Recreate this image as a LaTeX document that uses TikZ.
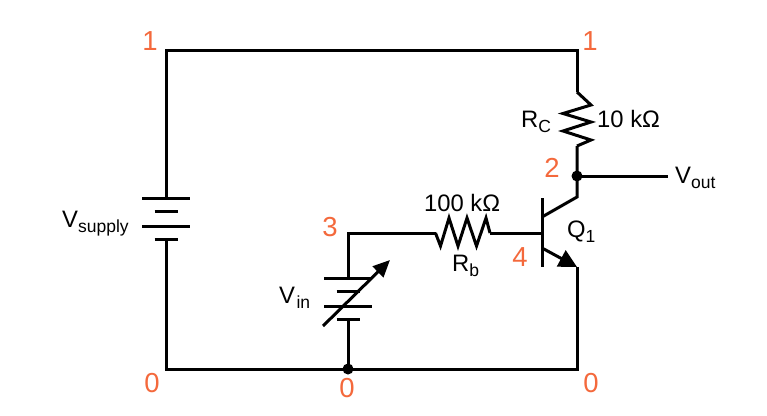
\documentclass[tikz,border=0pt]{standalone}
\usepackage{fontspec}
\setmainfont{Liberation Sans}
\usetikzlibrary{arrows.meta}
\newcommand{\subtxt}[1]{\raisebox{-5pt}{\fontsize{17.5}{17.5}\selectfont #1}}
\begin{document}
\begin{tikzpicture}[x=1pt,y=-1pt,wire/.style={line width=3pt,line join=miter,line cap=butt},
    dotnode/.style={circle,fill=black,inner sep=0pt,minimum size=11pt},
    numlabel/.style={text=numcolor,font=\fontsize{27.5}{27.5}\selectfont,inner sep=0pt},
    partlabel/.style={anchor=base west,inner sep=0pt,font=\fontsize{23.8}{23.8}\selectfont}]
        \definecolor{numcolor}{HTML}{F4693C}
        \useasboundingbox (0,0) rectangle (767,415);

          % corners of the loop
          \coordinate (tl) at (166,50);
          \coordinate (tr) at (577,50);
          \coordinate (bl) at (166,369);
          \coordinate (br) at (577,369);
          \coordinate (in) at (348,233);
          \coordinate (out) at (668,176);
          \coordinate (rcTop) at (577,92);
          \coordinate (rcBot) at (577,146);
          \coordinate (rbL) at (435.5,233);
          \coordinate (rbR) at (490,233);
          \coordinate (base) at (542,233);
          \coordinate (barTop) at (542,198);
          \coordinate (barBot) at (542,267);
          \coordinate (colIn) at (542,217);
          \coordinate (colOut) at (577,197);
          \coordinate (emIn) at (542,248);
          \coordinate (emOut) at (577,267);
          \coordinate (supA) at (166,198);
          \coordinate (supB) at (166,211);
          \coordinate (supC) at (166,226);
          \coordinate (supD) at (166,239);
          \coordinate (vinA) at (348,278);
          \coordinate (vinB) at (348,291);
          \coordinate (vinC) at (348,306);
          \coordinate (vinD) at (348,319);
          \coordinate (adjA) at (323,326);
          \coordinate (adjB) at (390,260);

          \node[dotnode] (d1) at (577,176) {};
          \node[dotnode] (d2) at (348,369) {};

          % wires
          \draw[wire] (supA) -- (tl) -- (tr) -- (rcTop);
          \draw[wire] (supD) -- (bl) -- (br) -- (emOut);
          \draw[wire] (rcBot) -- (d1.center) -- (colOut) -- (colIn);
          \draw[wire] (d1.center) -- (out);
          \draw[wire] (vinA) -- (in) -- (rbL);
          \draw[wire] (rbR) -- (base);
          \draw[wire] (vinD) -- (d2.center);
          \draw[wire] (barTop) -- (barBot);
          \draw[wire,-{Triangle[length=18pt,width=18pt]}] (emIn) -- (emOut);

          % resistors
          \draw[wire] (rcTop) -- ++(14,13) -- ++(-28,8.5) -- ++(28,8.5) -- ++(-28,9) -- ++(28,9) -- (rcBot);
          \draw[wire] (rbL) -- ++(5,13) -- ++(8.5,-28) -- ++(9,28) -- ++(9,-28) -- ++(9.5,28) -- ++(9.5,-28) -- (rbR);

          % batteries
          \draw[wire] ([xshift=-24pt]supA) -- ([xshift=24pt]supA);
          \draw[wire] ([xshift=-11.5pt]supB) -- ([xshift=11.5pt]supB);
          \draw[wire] ([xshift=-24pt]supC) -- ([xshift=24pt]supC);
          \draw[wire] ([xshift=-11.5pt]supD) -- ([xshift=11.5pt]supD);
          \draw[wire] ([xshift=-24pt]vinA) -- ([xshift=24pt]vinA);
          \draw[wire] ([xshift=-11.5pt]vinB) -- ([xshift=11.5pt]vinB);
          \draw[wire] ([xshift=-24pt]vinC) -- ([xshift=24pt]vinC);
          \draw[wire] ([xshift=-11.5pt]vinD) -- ([xshift=11.5pt]vinD);
          \draw[wire,-{Triangle[length=17pt,width=15pt]}] (adjA) -- (adjB);

          % node numbers
          \node[numlabel] (n1) at (150,41) {1};
          \node[numlabel] (n2) at (590,41) {1};
          \node[numlabel] (n3) at (552,168) {2};
          \node[numlabel] (n4) at (330,227) {3};
          \node[numlabel] (n5) at (520,257) {4};
          \node[numlabel] (n6) at (152,383) {0};
          \node[numlabel] (n7) at (347,388) {0};
          \node[numlabel] (n8) at (591,383) {0};

          % part labels
          \node[partlabel] (vsupply) at (62,227) {V\subtxt{supply}};
          \node[partlabel] (vin) at (279,303) {V\kern1.5pt\subtxt{in}};
          \node[partlabel] (rb) at (452,271) {R\subtxt{b}};
          \node[partlabel] (rc) at (521,127) {R\subtxt{C}};
          \node[partlabel] (rcval) at (597,127) {10 kΩ};
          \node[partlabel] (rbval) at (424,211) {100 kΩ};
          \node[partlabel] (vout) at (675,183) {V\subtxt{out}};
          \node[partlabel] (q1) at (567,237) {Q\subtxt{1}};

        \end{tikzpicture}
\end{document}
